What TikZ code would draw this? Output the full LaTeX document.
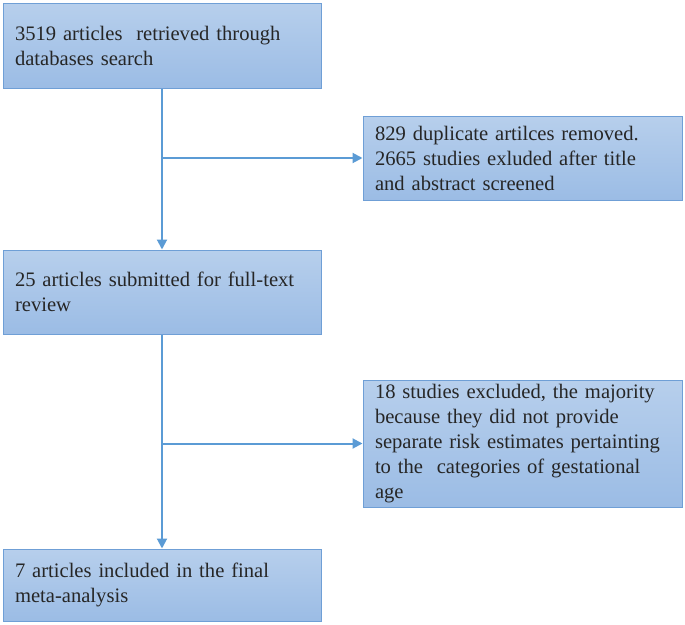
\documentclass[tikz,border=0pt]{standalone}
\usepackage{fontspec}
\setmainfont{Liberation Serif}
\usetikzlibrary{arrows.meta}
\definecolor{boxtop}{HTML}{B7CFEC}
\definecolor{boxbot}{HTML}{9BBCE5}
\definecolor{boxline}{HTML}{6F9FD6}
\definecolor{arr}{HTML}{5B9BD5}
\tikzset{
  flowbox/.style={draw=boxline, line width=1pt, top color=boxtop, bottom color=boxbot,
    inner xsep=12pt, inner ysep=0pt, align=left, anchor=center,
    font=\fontsize{20.6}{25}\selectfont, text=black!85},
  conn/.style={draw=arr, line width=2pt, -{Triangle[length=10pt,width=10pt]}}
}
\begin{document}
\begin{tikzpicture}[x=1pt,y=-1pt]
\useasboundingbox (0,0) rectangle (685,624);
\node[flowbox, minimum width=318pt, minimum height=85pt, text width=294pt] (b1) at (162,45.5)
  {3519 articles\ \ retrieved through\\databases search};
\node[flowbox, minimum width=319pt, minimum height=84pt, text width=295pt] (b2) at (522.5,158)
  {829 duplicate artilces removed.\\2665 studies exluded after title\\and abstract screened};
\node[flowbox, minimum width=318pt, minimum height=84pt, text width=294pt] (b3) at (162,292)
  {25 articles submitted for full-text\\review};
\node[flowbox, minimum width=319pt, minimum height=127pt, text width=295pt] (b4) at (522.5,443.5)
  {18 studies excluded, the majority\\because they did not provide\\separate risk estimates pertainting\\to the\ \ categories of gestational\\age};
\node[flowbox, minimum width=318pt, minimum height=72pt, text width=294pt] (b5) at (162,585)
  {7 articles included in the final\\meta-analysis};
\coordinate (j1) at (162,158);
\coordinate (j2) at (162,443.5);
\draw[conn] (b1.south) -- (b3.north);
\draw[conn] (j1) -- (b2.west);
\draw[conn] (b3.south) -- (b5.north);
\draw[conn] (j2) -- (b4.west);
\end{tikzpicture}
\end{document}
